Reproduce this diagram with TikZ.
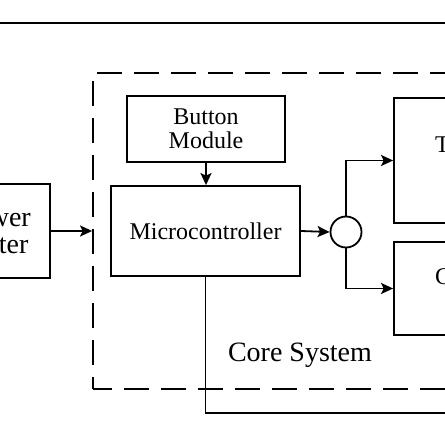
\documentclass[tikz,border=0pt]{standalone}
\usepackage{fontspec}
\setmainfont{Liberation Serif}
\usetikzlibrary{arrows.meta}
\begin{document}
\begin{tikzpicture}[x=1pt,y=1pt,
  line/.style={line width=1.8pt},
  blk/.style={draw, line width=1.8pt, inner sep=0pt, align=center, font=\fontsize{24}{24}\selectfont},
  arr/.style={line, -{Stealth[length=12pt,width=11pt,inset=2.5pt]}},
  corebox/.style={draw, line width=1.8pt, dash pattern=on 25pt off 12pt, dash phase=6pt, inner sep=0pt},
  txt/.style={inner sep=0pt, font=\fontsize{24}{24}\selectfont}]
\useasboundingbox (0,0) rectangle (444,444);
% top rule
\coordinate (tl) at (-10,421);
\coordinate (tr) at (460,421);
\draw[line] (tl) -- (tr);
% core system dashed frame
\node[corebox, minimum width=427pt, minimum height=316pt] (core) at (306.5,213) {};
\node[txt, font=\fontsize{28}{28}\selectfont, anchor=base] (coretxt) at (300,82) {Core System};
% blocks
\node[blk, minimum width=110pt, minimum height=94pt, font=\fontsize{28}{27}\selectfont] (pm) at (-5,213) {Power\\Meter};
\node[blk, minimum width=158pt, minimum height=66pt] (bm) at (206,315) {Button\\Module};
\node[blk, minimum width=189pt, minimum height=90pt] (mc) at (205.5,213) {Microcontroller};
\node[draw, line width=1.8pt, circle, minimum size=31pt, inner sep=0pt] (j) at (346,212) {};
\node[blk, minimum width=126pt, minimum height=125pt] (tb) at (457,283.5) {};
\node[blk, minimum width=126pt, minimum height=93pt] (cb) at (457,155.5) {};
\node[txt, anchor=base west] (tbt) at (435,291) {T};
\node[txt, anchor=base west] (cbt) at (435,159) {C};
% connectors
\draw[arr] (pm.east) -- (pm.east -| core.west);
\draw[arr] (bm.south) -- (bm.south |- mc.north);
\draw[arr] (mc.east) -- (j.west);
\draw[arr] (j.north) |- (tb.west);
\draw[arr] (j.south) |- (cb.west);
\coordinate (out) at (460,31);
\draw[line] (mc.south) |- (out);
\end{tikzpicture}
\end{document}
